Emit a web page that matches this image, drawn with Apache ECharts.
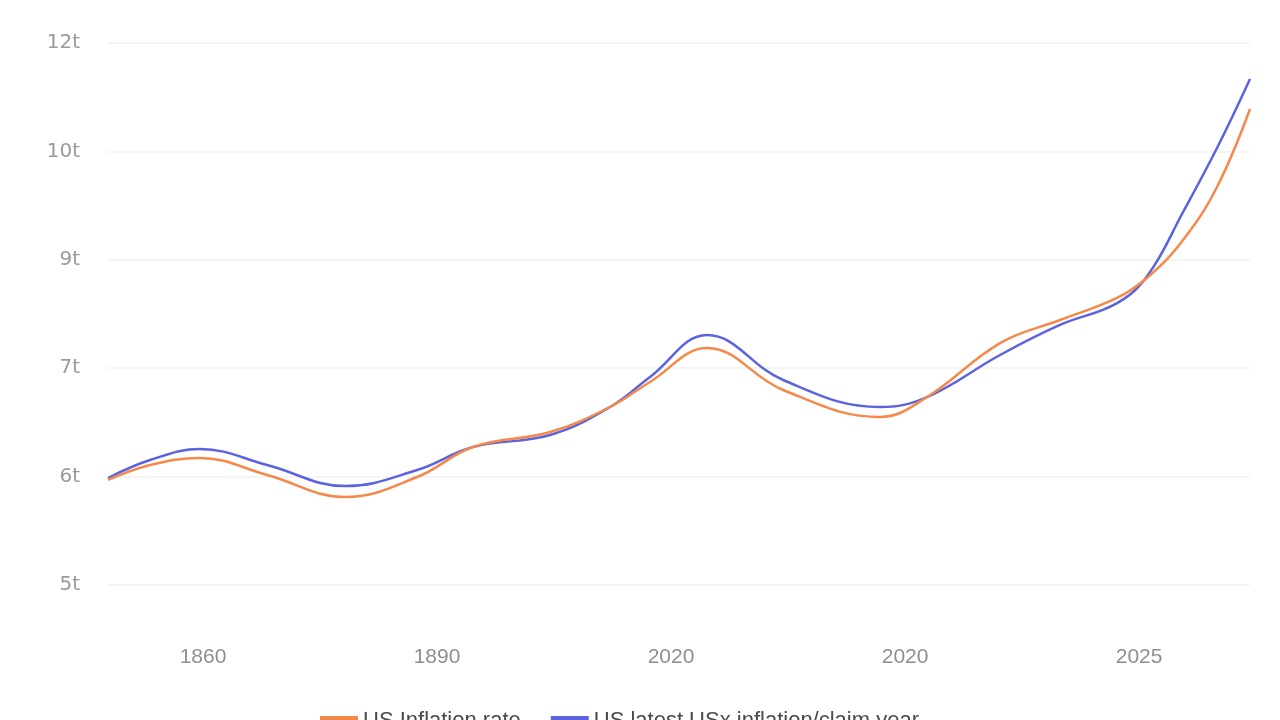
<!DOCTYPE html>
<html>
<head>
<meta charset="utf-8">
<script src="https://cdn.jsdelivr.net/npm/echarts@6/dist/echarts.min.js"></script>
<style>
html,body{margin:0;padding:0;background:#fff;}
#c{width:1280px;height:720px;}
</style>
</head>
<body>
<div id="c"></div>
<script>
// Tick labels
const yLabels = ['5t', '6t', '7t', '9t', '10t', '12t'];
const xLabels = ['1860', '1890', '2020', '2020', '2025'];
const seriesNames = ['US Inflation rate', 'US latest USx inflation/claim year'];

// x positions in label-index units (0 = first x label)
const xs = [-0.406, -0.226, -0.013, 0.274, 0.607, 0.915, 1.154, 1.483, 1.739, 1.910, 2.154, 2.479, 2.893, 3.094, 3.406, 3.662, 3.906, 4.038, 4.188, 4.333, 4.474];
// values in y-label-index units
const inflation = [0.969, 1.107, 1.172, 1.015, 0.812, 0.996, 1.273, 1.411, 1.642, 1.873, 2.186, 1.799, 1.550, 1.734, 2.232, 2.445, 2.648, 2.841, 3.183, 3.672, 4.391];
const latest = [0.987, 1.153, 1.255, 1.107, 0.913, 1.061, 1.273, 1.384, 1.642, 1.919, 2.306, 1.891, 1.642, 1.734, 2.122, 2.399, 2.601, 2.860, 3.441, 4.031, 4.668];

const pair = (arr) => xs.map((x, i) => [x, arr[i]]);

const chart = echarts.init(document.getElementById('c'));
chart.setOption({
  backgroundColor: '#fff',
  animation: false,
  grid: { left: 108, right: 30, top: 43, bottom: 135 },
  legend: {
    top: 705,
    left: 315,
    icon: 'rect',
    itemWidth: 38,
    itemHeight: 10,
    itemGap: 30,
    textStyle: { fontSize: 22, color: '#4a4a4a', fontFamily: 'Liberation Sans, Arial, sans-serif' },
    data: seriesNames
  },
  xAxis: {
    type: 'value',
    min: xs[0],
    max: xs[xs.length - 1],
    axisLine: { show: false },
    axisTick: { show: false },
    splitLine: { show: false },
    axisLabel: {
      customValues: xLabels.map((_, i) => i),
      formatter: (v) => xLabels[Math.round(v)],
      margin: 62,
      fontSize: 21,
      color: '#8f8f8f',
      fontFamily: 'Liberation Sans, Arial, sans-serif'
    }
  },
  yAxis: {
    type: 'value',
    min: 0,
    max: yLabels.length - 1,
    interval: 1,
    axisLine: { show: false },
    axisTick: { show: false },
    splitLine: { lineStyle: { color: '#f2f2f2', width: 1.5 } },
    axisLabel: {
      formatter: (v) => yLabels[Math.round(v)],
      margin: 28,
      fontSize: 20,
      color: '#9a9a9a',
      fontFamily: 'DejaVu Sans, sans-serif'
    }
  },
  series: [
    {
      name: seriesNames[0],
      type: 'line',
      smooth: 0.4,
      showSymbol: false,
      data: pair(inflation),
      itemStyle: { color: '#f5894a' },
      lineStyle: { color: '#f5894a', width: 2.5 },
      z: 3
    },
    {
      name: seriesNames[1],
      type: 'line',
      smooth: 0.4,
      showSymbol: false,
      data: pair(latest),
      itemStyle: { color: '#5b63e0' },
      lineStyle: { color: '#5b63e0', width: 2.5 },
      z: 2
    }
  ]
});
</script>
</body>
</html>
